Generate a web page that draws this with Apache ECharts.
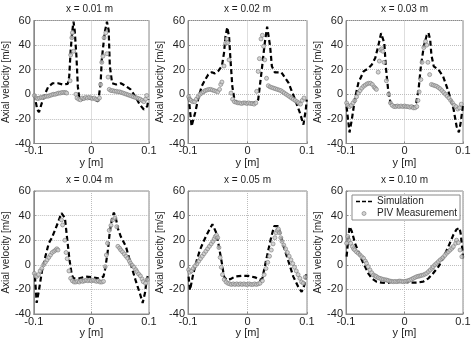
<!DOCTYPE html>
<html><head><meta charset="utf-8">
<script src="https://cdn.jsdelivr.net/npm/echarts@6/dist/echarts.min.js"></script>
<style>html,body{margin:0;padding:0;background:#fff}#c{width:474px;height:341px}</style>
</head><body><div id="c"></div>
<script>
const panelTitles = ['x = 0.01 m','x = 0.02 m','x = 0.03 m','x = 0.04 m','x = 0.05 m','x = 0.10 m'];
const xTickValues = [-0.1, 0, 0.1];
const yTickValues = [-40, -20, 0, 20, 40, 60];
const seriesNames = ['Simulation', 'PIV Measurement'];

const sim1 = [[-0.099,0],[-0.094,-12.5],[-0.091,-14.5],[-0.086,-7],[-0.080,1],[-0.075,6],[-0.067,9],[-0.058,9],[-0.050,8],[-0.041,8.5],[-0.0385,14.5],[-0.036,36],[-0.033,52],[-0.031,59],[-0.029,52],[-0.026,31],[-0.0235,6],[-0.021,-3],[-0.016,-4.3],[-0.011,-3],[-0.005,-3.5],[0.001,-3],[0.006,-4.3],[0.011,-5.7],[0.013,-1.6],[0.016,9],[0.018,28],[0.023,50],[0.027,59],[0.030,52],[0.032,23],[0.036,9],[0.043,8],[0.051,9],[0.059,7],[0.068,4],[0.076,-1.6],[0.084,-8.4],[0.091,-12.4],[0.094,-13.8],[0.097,-9.7],[0.099,-4]];
const piv1 = [[-0.099,-1],[-0.096,-3],[-0.093,-3.5],[-0.09,-3],[-0.087,-2.5],[-0.084,-2.5],[-0.081,-2],[-0.078,-1.5],[-0.075,-1.5],[-0.072,-1],[-0.069,-0.5],[-0.066,0],[-0.063,0],[-0.06,0.5],[-0.057,1],[-0.054,1],[-0.051,1.5],[-0.048,1.5],[-0.045,1.5],[-0.043,1],[-0.037,11],[-0.036,32],[-0.034,46],[-0.033,50],[-0.031,35],[-0.027,0],[-0.025,-3],[-0.022,-4],[-0.019,-4.5],[-0.016,-3],[-0.013,-3.5],[-0.01,-2.5],[-0.007,-3],[-0.004,-2.5],[-0.001,-3],[0.002,-3.5],[0.005,-3],[0.008,-4],[0.011,-4.5],[0.014,-3],[0.016,8],[0.018,26],[0.020,31],[0.022,46],[0.025,50],[0.027,33],[0.029,14],[0.031,4],[0.034,3],[0.037,3],[0.04,2.5],[0.043,2.5],[0.046,2],[0.049,2],[0.052,1.5],[0.055,1],[0.058,0.5],[0.061,0],[0.064,-0.5],[0.067,-1],[0.07,-1.5],[0.073,-2],[0.076,-2.5],[0.079,-3],[0.082,-3.5],[0.085,-4],[0.088,-5],[0.091,-6],[0.094,-4],[0.096,-1]];

const sim2 = [[-0.099,-1.6],[-0.094,-26],[-0.093,-27],[-0.088,-15],[-0.083,-4],[-0.077,6.5],[-0.071,12],[-0.066,16],[-0.060,18],[-0.055,17],[-0.049,19],[-0.043,23],[-0.0395,33.5],[-0.037,47],[-0.034,54.5],[-0.031,47],[-0.029,31],[-0.0255,6.5],[-0.022,-4.3],[-0.018,-6.5],[-0.010,-7],[0.001,-7],[0.010,-7],[0.0154,-6],[0.018,-4.3],[0.024,20],[0.029,41.6],[0.033,55],[0.038,39],[0.041,22.7],[0.046,17.8],[0.057,17.8],[0.069,9.2],[0.080,-4.3],[0.088,-15],[0.094,-24.6],[0.095,-25.4],[0.098,-12.4],[0.0995,-4.3]];
const piv2 = [[-0.099,-2],[-0.097,-4],[-0.095,-5],[-0.092,-6],[-0.089,-6],[-0.086,-4],[-0.083,-2],[-0.08,0],[-0.077,1],[-0.074,2],[-0.071,3],[-0.068,3.5],[-0.065,4],[-0.062,4],[-0.059,3.5],[-0.056,3],[-0.053,2.5],[-0.05,2],[-0.047,4],[-0.045,8],[-0.043,10],[-0.0395,23],[-0.0367,41.6],[-0.035,45],[-0.0333,42],[-0.031,28],[-0.0277,1],[-0.025,-4],[-0.022,-6],[-0.019,-6.5],[-0.016,-7],[-0.013,-7],[-0.01,-7.5],[-0.007,-7],[-0.004,-7],[-0.001,-7.5],[0.002,-7],[0.005,-7.5],[0.008,-7.5],[0.011,-8],[0.014,-7],[0.0154,2.4],[0.018,18.6],[0.020,29],[0.0227,45],[0.025,48],[0.027,39],[0.029,28],[0.032,13],[0.035,7],[0.038,6],[0.041,5.5],[0.044,5],[0.047,4.5],[0.05,4],[0.053,3.5],[0.056,3],[0.059,2],[0.062,1],[0.065,0],[0.068,-1],[0.071,-2],[0.074,-3],[0.077,-4],[0.08,-5],[0.083,-6],[0.086,-7],[0.089,-8],[0.092,-5],[0.095,-3]];

const sim3 = [[-0.099,-10],[-0.094,-31],[-0.090,-20.5],[-0.085,-4.3],[-0.079,9],[-0.070,18.6],[-0.062,21],[-0.056,24],[-0.050,29.5],[-0.045,39],[-0.040,49.7],[-0.037,50],[-0.0345,41.6],[-0.032,22.7],[-0.028,3.8],[-0.024,-7],[-0.019,-9.2],[-0.008,-9.7],[0.004,-9.7],[0.015,-10.3],[0.020,-7],[0.024,3.8],[0.028,22.7],[0.033,39],[0.038,48],[0.041,50],[0.044,44],[0.046,32],[0.050,22.7],[0.058,20],[0.066,14.6],[0.075,2.4],[0.084,-12.4],[0.089,-26],[0.093,-31],[0.096,-23],[0.099,-12.4],[0.1,-7]];
const piv3 = [[-0.099,-7],[-0.097,-9],[-0.094,-10],[-0.091,-9],[-0.088,-7],[-0.085,-5],[-0.082,-2],[-0.079,1],[-0.076,3],[-0.073,5],[-0.07,6.5],[-0.067,7.5],[-0.064,8.5],[-0.061,9],[-0.058,9],[-0.055,8],[-0.052,6],[-0.05,5],[-0.048,4],[-0.045,18],[-0.043,27],[-0.041,36],[-0.039,37],[-0.037,35],[-0.035,26],[-0.031,11],[-0.027,0],[-0.024,-7],[-0.021,-9],[-0.018,-10],[-0.015,-10],[-0.012,-9.5],[-0.009,-10],[-0.006,-9.5],[-0.003,-10],[0,-9.5],[0.003,-10],[0.006,-10],[0.009,-10.5],[0.012,-10],[0.015,-11],[0.018,-11],[0.021,-10],[0.023,-5],[0.025,2],[0.028,12],[0.030,26],[0.033,38],[0.036,43],[0.038,40],[0.04,26],[0.043,16],[0.046,8],[0.049,7.5],[0.052,7],[0.055,6.5],[0.058,5.5],[0.061,4.5],[0.064,3],[0.067,1.5],[0.07,0],[0.073,-1.5],[0.076,-3],[0.079,-5],[0.082,-7],[0.085,-9],[0.088,-10],[0.091,-12],[0.094,-11],[0.097,-8]];

const sim4 = [[-0.098,-9.6],[-0.095,-31],[-0.091,-20.5],[-0.0855,-4.2],[-0.080,6.6],[-0.074,17.5],[-0.069,21.6],[-0.063,28.4],[-0.0575,35],[-0.052,42],[-0.049,42.4],[-0.046,38],[-0.0425,23],[-0.038,4],[-0.034,-8.3],[-0.031,-11],[-0.021,-11],[-0.010,-9.6],[0.001,-10],[0.012,-11],[0.021,-9.6],[0.0235,-4.2],[0.028,9.4],[0.032,27],[0.036,38],[0.039,42.4],[0.042,39],[0.046,29.5],[0.051,23],[0.060,14.8],[0.068,1.2],[0.0765,-12.3],[0.085,-24.5],[0.089,-31],[0.093,-23],[0.096,-12.3],[0.098,-9]];
const piv4 = [[-0.099,-7],[-0.097,-9],[-0.095,-9.5],[-0.092,-8],[-0.089,-5],[-0.086,-3],[-0.083,0],[-0.080,2],[-0.077,4],[-0.074,6],[-0.071,8],[-0.068,10],[-0.065,11],[-0.062,12],[-0.060,13],[-0.058,12],[-0.052,36.5],[-0.050,32.4],[-0.046,20],[-0.044,10],[-0.042,5],[-0.039,-5],[-0.036,-11],[-0.033,-13],[-0.030,-14],[-0.027,-14],[-0.024,-13.5],[-0.021,-14],[-0.018,-13],[-0.015,-13.5],[-0.012,-13],[-0.009,-12.5],[-0.006,-13],[-0.003,-12.5],[0,-13],[0.003,-12.5],[0.006,-13],[0.009,-13.5],[0.012,-13],[0.015,-14],[0.018,-14],[0.021,-13.5],[0.024,-1.5],[0.026,8],[0.028,17.5],[0.031,28],[0.034,32],[0.037,36.5],[0.041,38],[0.044,31],[0.046,15],[0.049,13.5],[0.051,12],[0.054,10.5],[0.057,8.8],[0.060,7],[0.063,5.3],[0.066,3],[0.068,1.2],[0.071,-0.5],[0.074,-2],[0.077,-4],[0.079,-5.6],[0.082,-7.5],[0.085,-9],[0.088,-11.5],[0.09,-13.7],[0.094,-15],[0.097,-12]];

const sim5 = [[-0.099,-9.6],[-0.0966,-20.5],[-0.0955,-21],[-0.091,-7],[-0.085,4],[-0.080,12],[-0.074,18.8],[-0.069,24],[-0.063,29.5],[-0.059,33],[-0.056,31.5],[-0.052,25.5],[-0.048,14.7],[-0.043,1.2],[-0.0395,-9.6],[-0.035,-12.3],[-0.029,-11.7],[-0.021,-9.6],[-0.010,-9],[0.001,-9],[0.0126,-10.2],[0.021,-12.3],[0.025,-11],[0.029,-1.5],[0.035,12],[0.0406,24],[0.045,31.5],[0.048,33],[0.051,31.5],[0.055,25.5],[0.060,16],[0.069,2.6],[0.077,-9.6],[0.085,-17.7],[0.091,-22],[0.094,-19],[0.097,-13.7],[0.099,-6]];
const piv5 = [[-0.099,-4],[-0.097,-6],[-0.094,-5],[-0.091,-3],[-0.088,-1],[-0.085,1],[-0.082,3],[-0.079,5],[-0.076,7],[-0.073,9],[-0.07,11],[-0.067,13],[-0.064,15],[-0.061,17],[-0.058,19],[-0.056,21],[-0.054,23],[-0.052,24],[-0.05,22],[-0.048,14],[-0.046,6],[-0.044,-2],[-0.042,-8],[-0.039,-12],[-0.036,-14],[-0.033,-15],[-0.03,-15.5],[-0.027,-16],[-0.024,-15.5],[-0.021,-16],[-0.018,-15.5],[-0.015,-16],[-0.012,-15.5],[-0.009,-16],[-0.006,-15.5],[-0.003,-16],[0,-16],[0.003,-15.5],[0.006,-16],[0.009,-16],[0.012,-15.5],[0.015,-16],[0.018,-15.5],[0.021,-15],[0.025,-13],[0.028,-8],[0.031,-3],[0.034,2],[0.037,7],[0.04,12],[0.043,17],[0.046,22],[0.048,26],[0.050,28],[0.052,29],[0.054,26],[0.056,22],[0.058,19],[0.061,16],[0.064,13],[0.067,10],[0.07,7],[0.073,4],[0.076,1],[0.079,-2],[0.082,-5],[0.085,-8],[0.088,-11],[0.091,-14],[0.094,-15],[0.097,-10]];

const sim6 = [[-0.099,6.6],[-0.094,31],[-0.090,27],[-0.0846,17.5],[-0.079,10.8],[-0.073,4],[-0.0675,-1.5],[-0.062,-6.9],[-0.056,-11],[-0.048,-13.7],[-0.039,-14.5],[-0.0305,-15],[-0.022,-13.7],[-0.013,-13.7],[-0.002,-13.7],[0.0094,-14.5],[0.021,-14.5],[0.032,-13.7],[0.041,-11],[0.049,-6.9],[0.058,-1.5],[0.066,5.3],[0.075,14.8],[0.0835,24.3],[0.089,28.8],[0.094,30],[0.096,25.5],[0.099,12],[0.1,5.3]];
const piv6 = [[-0.099,17.5],[-0.097,23],[-0.095,20],[-0.092,17.5],[-0.089,14.8],[-0.087,13],[-0.085,12],[-0.082,10.5],[-0.079,9.4],[-0.076,8],[-0.073,6.5],[-0.070,5.3],[-0.067,3],[-0.065,1.2],[-0.062,-1.5],[-0.059,-4.2],[-0.056,-6.5],[-0.053,-8.3],[-0.050,-9],[-0.048,-9.6],[-0.045,-10.5],[-0.042,-11],[-0.039,-11.5],[-0.036,-11.9],[-0.033,-12.2],[-0.0305,-12.4],[-0.028,-12.8],[-0.025,-13.2],[-0.022,-13.5],[-0.019,-13.7],[-0.016,-13.5],[-0.013,-13.7],[-0.010,-13.4],[-0.008,-13.2],[-0.005,-13.5],[-0.002,-13.7],[0.001,-13.4],[0.004,-13.2],[0.007,-12.8],[0.009,-12.4],[0.012,-11.8],[0.015,-11],[0.018,-10.3],[0.021,-9.6],[0.024,-9.3],[0.0265,-9],[0.029,-8.6],[0.032,-8.3],[0.035,-7.6],[0.038,-6.9],[0.041,-5.5],[0.044,-4.2],[0.047,-2.8],[0.049,-1.5],[0.052,0],[0.055,1.2],[0.058,2.6],[0.061,4],[0.064,5],[0.066,6],[0.069,7.7],[0.072,9.4],[0.075,10.7],[0.078,12],[0.081,13.4],[0.0835,14.8],[0.0875,17.5],[0.089,20],[0.092,18],[0.095,12],[0.098,6.6]];

const simData = [sim1, sim2, sim3, sim4, sim5, sim6];
const pivData = [piv1, piv2, piv3, piv4, piv5, piv6];

const FONT = "'Liberation Sans', Arial, sans-serif";
const TXT = '#1e1e1e';
const gridBoxes = [
  {left:30, top:20.5, width:119, height:123},
  {left:188, top:20.5, width:119, height:123},
  {left:346, top:20.5, width:117, height:123},
  {left:30, top:191, width:119, height:123},
  {left:188, top:191, width:119, height:123},
  {left:346, top:191, width:117, height:123}
];

const grids = [], xAxes = [], yAxes = [], titles = [], series = [];
gridBoxes.forEach((g, i) => {
  grids.push(Object.assign({show:true, borderColor:'#8a8a8a', borderWidth:1, backgroundColor:'#fff', containLabel:false}, g));
  titles.push({text: panelTitles[i], left: g.left + g.width/2, top: g.top - 16, textAlign:'center', padding:0,
    textStyle:{fontFamily:FONT, fontSize:10, fontWeight:'normal', color:TXT}});
  xAxes.push({type:'value', gridIndex:i, min:xTickValues[0], max:xTickValues[xTickValues.length-1], interval:xTickValues[1]-xTickValues[0],
    name:'y [m]', nameLocation:'middle', nameGap:13, nameTextStyle:{fontFamily:FONT, fontSize:11, color:TXT},
    axisLine:{show:true, onZero:false, lineStyle:{color:'#8a8a8a'}},
    axisTick:{show:true, inside:true, length:2, lineStyle:{color:'#8a8a8a'}},
    axisLabel:{margin:2, fontFamily:FONT, fontSize:11, color:TXT, formatter: v => String(Math.round(v*10)/10)},
    splitLine:{show:true, lineStyle:{type:'dotted', color:'#bdbdbd', width:1}}});
  yAxes.push({type:'value', gridIndex:i, min:yTickValues[0], max:yTickValues[yTickValues.length-1], interval:yTickValues[1]-yTickValues[0],
    name:'Axial velocity [m/s]', nameLocation:'middle', nameGap:19, nameTextStyle:{fontFamily:FONT, fontSize:10, color:TXT},
    axisLine:{show:true, onZero:false, lineStyle:{color:'#8a8a8a'}},
    axisTick:{show:true, inside:true, length:2, lineStyle:{color:'#8a8a8a'}},
    axisLabel:{margin:3, fontFamily:FONT, fontSize:11, color:TXT},
    splitLine:{show:true, lineStyle:{type:'dotted', color:'#bdbdbd', width:1}}});
  series.push({type:'line', name:seriesNames[0], xAxisIndex:i, yAxisIndex:i, data: simData[i],
    symbol:'none', showSymbol:false, animation:false, z:2,
    lineStyle:{color:'#000', width:2.2, type:[5,3]}});
  series.push({type:'scatter', name:seriesNames[1], xAxisIndex:i, yAxisIndex:i, data: pivData[i],
    symbol:'circle', symbolSize:4, animation:false, z:3,
    itemStyle:{color:'#c9c9c9', borderColor:'#7a7a7a', borderWidth:0.8}});
});

const chart = echarts.init(document.getElementById('c'), null, {renderer:'canvas'});
chart.setOption({
  animation:false,
  backgroundColor:'#fff',
  title: titles,
  grid: grids,
  xAxis: xAxes,
  yAxis: yAxes,
  legend: {
    orient:'vertical', left:352, top:195, padding:[1,3,1,4], itemGap:1,
    itemWidth:16, itemHeight:4, backgroundColor:'#fff', borderColor:'#8a8a8a', borderWidth:1, z:10,
    textStyle:{fontFamily:FONT, fontSize:10, color:TXT, lineHeight:11},
    data:[
      {name:seriesNames[0], icon:'path://M0,0h5v2h-5z M7.5,0h5v2h-5z M15,0h5v2h-5z', itemStyle:{color:'#000', borderWidth:0}},
      {name:seriesNames[1], icon:'circle', itemStyle:{color:'#c9c9c9', borderColor:'#7a7a7a', borderWidth:0.8}}
    ]
  },
  series: series
});
</script>
</body></html>
